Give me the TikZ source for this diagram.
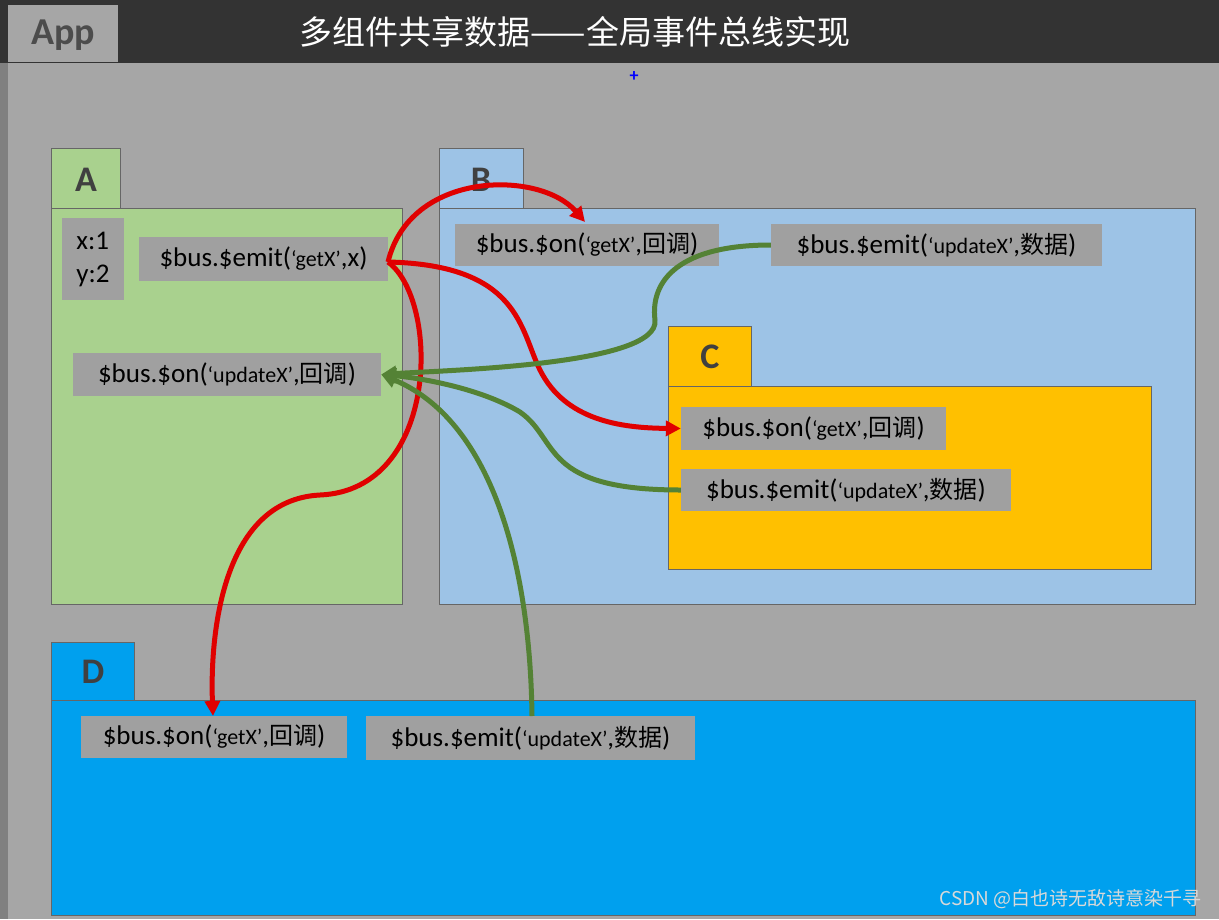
\documentclass[tikz,border=0pt]{standalone}
\usepackage{fontspec}
\setmainfont{Carlito}
\newfontfamily\cjk{Noto Sans CJK SC}
\usetikzlibrary{arrows.meta}
\definecolor{bar}{HTML}{333333}
\definecolor{bg}{HTML}{A6A6A6}
\definecolor{lbl}{HTML}{A0A0A0}
\definecolor{ga}{HTML}{A9D18E}
\definecolor{bb}{HTML}{9DC3E6}
\definecolor{oc}{HTML}{FFC000}
\definecolor{dd}{HTML}{00A0EE}
\definecolor{rd}{HTML}{E00000}
\definecolor{gn}{HTML}{548235}
\tikzset{
 comp/.style={draw=black!60,line width=1pt},
 tabtxt/.style={font=\bfseries\fontsize{36}{36}\selectfont,text=black!75},
 lab/.style={fill=lbl,inner sep=0pt,font=\fontsize{27}{29}\selectfont,text=black},
 red/.style={draw=rd,line width=5pt,-{Triangle[length=15pt,width=15pt]}},
 grn/.style={draw=gn,line width=5pt,-{Triangle[length=15pt,width=15pt]}},
}
\newcommand{\q}[1]{{\fontsize{22}{22}\selectfont #1}}
\newcommand{\zh}[1]{{\cjk\fontsize{24}{24}\selectfont #1}}
\begin{document}
\begin{tikzpicture}[x=1pt,y=-1pt]
\useasboundingbox (0,0) rectangle (1219,919);
\fill[bg] (0,0) rectangle (1219,919);
\fill[bar] (0,0) rectangle (1219,63);
\fill[black!50] (0,63) rectangle (8,919);
\fill[bg] (8,5) rectangle (118,62);
\node[font=\bfseries\fontsize{38}{38}\selectfont,text=black!70] (app) at (63,35) {App};
\node[font=\cjk\fontsize{33}{33}\selectfont,text=white] (title) at (575,32) {多组件共享数据——全局事件总线实现};
\node[text=blue,font=\bfseries\fontsize{18}{18}\selectfont] (plus) at (634,77) {+};
% A
\filldraw[comp,fill=ga] (51,148) rectangle (120,208);
\filldraw[comp,fill=ga] (51,208) rectangle (402,604);
\node[tabtxt] (ta) at (86,180) {A};
% B
\filldraw[comp,fill=bb] (439,148) rectangle (523,208);
\filldraw[comp,fill=bb] (439,208) rectangle (1195,604);
\node[tabtxt] (tb) at (481,180) {B};
% C
\filldraw[comp,fill=oc] (668,326) rectangle (751,386);
\filldraw[comp,fill=oc] (668,386) rectangle (1151,569);
\node[tabtxt] (tc) at (710,357) {C};
% D
\filldraw[comp,fill=dd] (51,642) rectangle (134,700);
\filldraw[comp,fill=dd] (51,700) rectangle (1195,915);
\node[tabtxt] (td) at (93,672) {D};
% labels
\node[lab,minimum width=62pt,minimum height=82pt,align=left] (xy) at (93,259) {x:1\\[4pt]y:2};
\node[lab,minimum width=249pt,minimum height=44pt] (aemit) at (263.5,259) {\$bus.\$emit(\q{‘getX’},x)};
\node[lab,minimum width=308pt,minimum height=43pt] (aon) at (227,374.5) {\$bus.\$on(\q{‘updateX’},\zh{回调})};
\node[lab,minimum width=264pt,minimum height=42pt] (bon) at (587,245) {\$bus.\$on(\q{‘getX’},\zh{回调})};
\node[lab,minimum width=331pt,minimum height=42pt] (bemit) at (936.5,245) {\$bus.\$emit(\q{‘updateX’},\zh{数据})};
\node[lab,minimum width=265pt,minimum height=43pt] (con) at (813.5,428.5) {\$bus.\$on(\q{‘getX’},\zh{回调})};
\node[lab,minimum width=330pt,minimum height=42pt] (cemit) at (846,490) {\$bus.\$emit(\q{‘updateX’},\zh{数据})};
\node[lab,minimum width=266pt,minimum height=42pt] (don) at (214,737) {\$bus.\$on(\q{‘getX’},\zh{回调})};
\node[lab,minimum width=329pt,minimum height=44pt] (demit) at (530.5,738) {\$bus.\$emit(\q{‘updateX’},\zh{数据})};
\coordinate (src) at (388,262);
\coordinate (bt) at (585,222);
\coordinate (dt) at (213,716);
\coordinate (dsrc) at (532,716);
% red
\draw[red] (src) .. controls (410,170) and (540,170) .. (bt);
\draw[red] (src) .. controls (520,265) and (520,330) .. (540,370) .. controls (565,420) and (620,428) .. (con.west);
\draw[red] (src) .. controls (440,300) and (440,490) .. (320,495) .. controls (220,500) and (210,640) .. (dt);
% green
\draw[grn] (bemit.west) .. controls (680,245) and (650,280) .. (655,320) .. controls (660,365) and (450,370) .. (aon.east);
\draw[grn] (cemit.west) .. controls (540,490) and (560,440) .. (520,412) .. controls (480,388) and (420,378) .. (aon.east);
\draw[grn] (dsrc) .. controls (530,560) and (490,420) .. (aon.east);
\node[text=white!85!black,font=\cjk\fontsize{19}{19}\selectfont,anchor=east] (wm) at (1205,899) {CSDN @白也诗无敌诗意染千寻};
\end{tikzpicture}
\end{document}
